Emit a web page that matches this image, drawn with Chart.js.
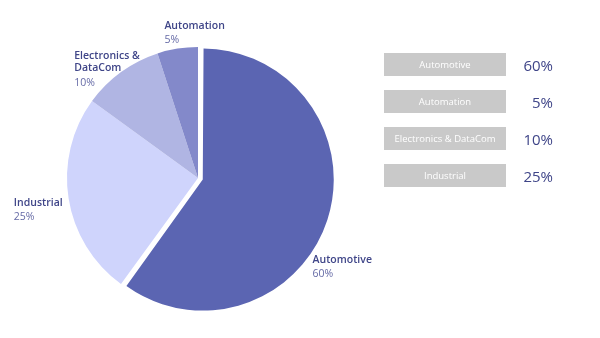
<!DOCTYPE html>
<html>
<head>
<meta charset="utf-8">
<script src="https://cdn.jsdelivr.net/npm/chart.js@4"></script>
<style>
    html, body { margin: 0; padding: 0; background: #fff; }
    #wrap { position: relative; width: 600px; height: 338px; }
    #chart { position: absolute; left: 0; top: 0; }
    #table { position: absolute; left: 384px; top: 53px; font-family: "Open Sans", sans-serif; }
    .row { display: flex; align-items: center; height: 23px; margin-bottom: 14px; }
    .box {
        width: 122px; height: 23px; line-height: 23px; background: #c9c9c9;
        color: #fff; font-size: 9.5px; text-align: center;
    }
    .pct { width: 47px; text-align: right; color: #3f4588; font-size: 15px; font-weight: 500; }
</style>
</head>
<body>
<div id="wrap">
    <canvas id="chart" width="600" height="338"></canvas>
    <div id="table"></div>
</div>
<script>
// pie order (clockwise from top)
const categories = ["Automotive", "Industrial", "Electronics & DataCom", "Automation"];
const shares = [60, 25, 10, 5];
const colors = ["#5b65b2", "#cfd4fc", "#b0b5e3", "#8389ca"];

// table order on the right
const tableCategories = ["Automotive", "Automation", "Electronics & DataCom", "Industrial"];

function shareOf(name) {
    return shares[categories.indexOf(name)];
}

const table = document.getElementById("table");
tableCategories.forEach(name => {
    const row = document.createElement("div");
    row.className = "row";
    row.innerHTML = `<div class="box">${name}</div><div class="pct">${shareOf(name)}%</div>`;
    table.appendChild(row);
});

function wrapText(ctx, text, maxWidth) {
    const words = text.split(" ");
    let lines = [];
    let line = "";
    words.forEach(w => {
        const test = line ? line + " " + w : w;
        if (ctx.measureText(test).width > maxWidth && line) {
            lines.push(line);
            line = w;
        } else {
            line = test;
        }
    });
    lines.push(line);
    return lines;
}

// chart.js moves an offset slice by offset/4 but also grows it by that much,
// so pull the exploded slice back to the common radius
const explodeFix = {
    id: "explodeFix",
    afterDatasetUpdate(chart, args) {
        const ds = chart.data.datasets[args.index];
        args.meta.data.forEach((arc, i) => {
            const off = (ds.offset && ds.offset[i]) || 0;
            if (off) arc.outerRadius -= off / 4;
        });
    }
};

// labels outside the slices, anchored on each slice's mid angle
const sliceLabels = {
    id: "sliceLabels",
    afterDatasetsDraw(chart, args, opts) {
        const ctx = chart.ctx;
        const meta = chart.getDatasetMeta(0);
        ctx.save();
        ctx.textAlign = "left";
        ctx.textBaseline = "alphabetic";
        meta.data.forEach((arc, i) => {
            const p = arc.getProps(["x", "y", "startAngle", "endAngle"], true);
            const mid = (p.startAngle + p.endAngle) / 2;
            const r = chart.data.datasets[0].radius + opts.gap;
            const nudge = opts.nudge[i];
            const x = p.x + Math.cos(mid) * r + nudge[0];
            let y = p.y + Math.sin(mid) * r + nudge[1];

            ctx.font = "600 10.5px 'Open Sans', sans-serif";
            ctx.fillStyle = "#3f4588";
            const lines = wrapText(ctx, categories[i], 75);
            lines.forEach((ln, k) => {
                ctx.fillText(ln, x, y);
                if (k < lines.length - 1) y += 12.5;
            });
            y += 14.5;
            ctx.font = "400 10.5px 'Open Sans', sans-serif";
            ctx.fillStyle = "#656aa6";
            ctx.fillText(shares[i] + "%", x, y);
        });
        ctx.restore();
    }
};

new Chart(document.getElementById("chart"), {
    type: "pie",
    data: {
        labels: categories,
        datasets: [{
            data: shares,
            backgroundColor: colors,
            borderWidth: 0,
            offset: [20, 0, 0, 0],
            radius: 131
        }]
    },
    options: {
        responsive: false,
        animation: false,
        layout: { padding: { left: 63, right: 267, top: 43, bottom: 25 } },
        plugins: {
            legend: { display: false },
            tooltip: { enabled: false },
            sliceLabels: {
                gap: 20,
                nudge: [[-29, 38], [-35, 4], [-35, 3], [-10, 0]]
            }
        }
    },
    plugins: [explodeFix, sliceLabels]
});
</script>
</body>
</html>
